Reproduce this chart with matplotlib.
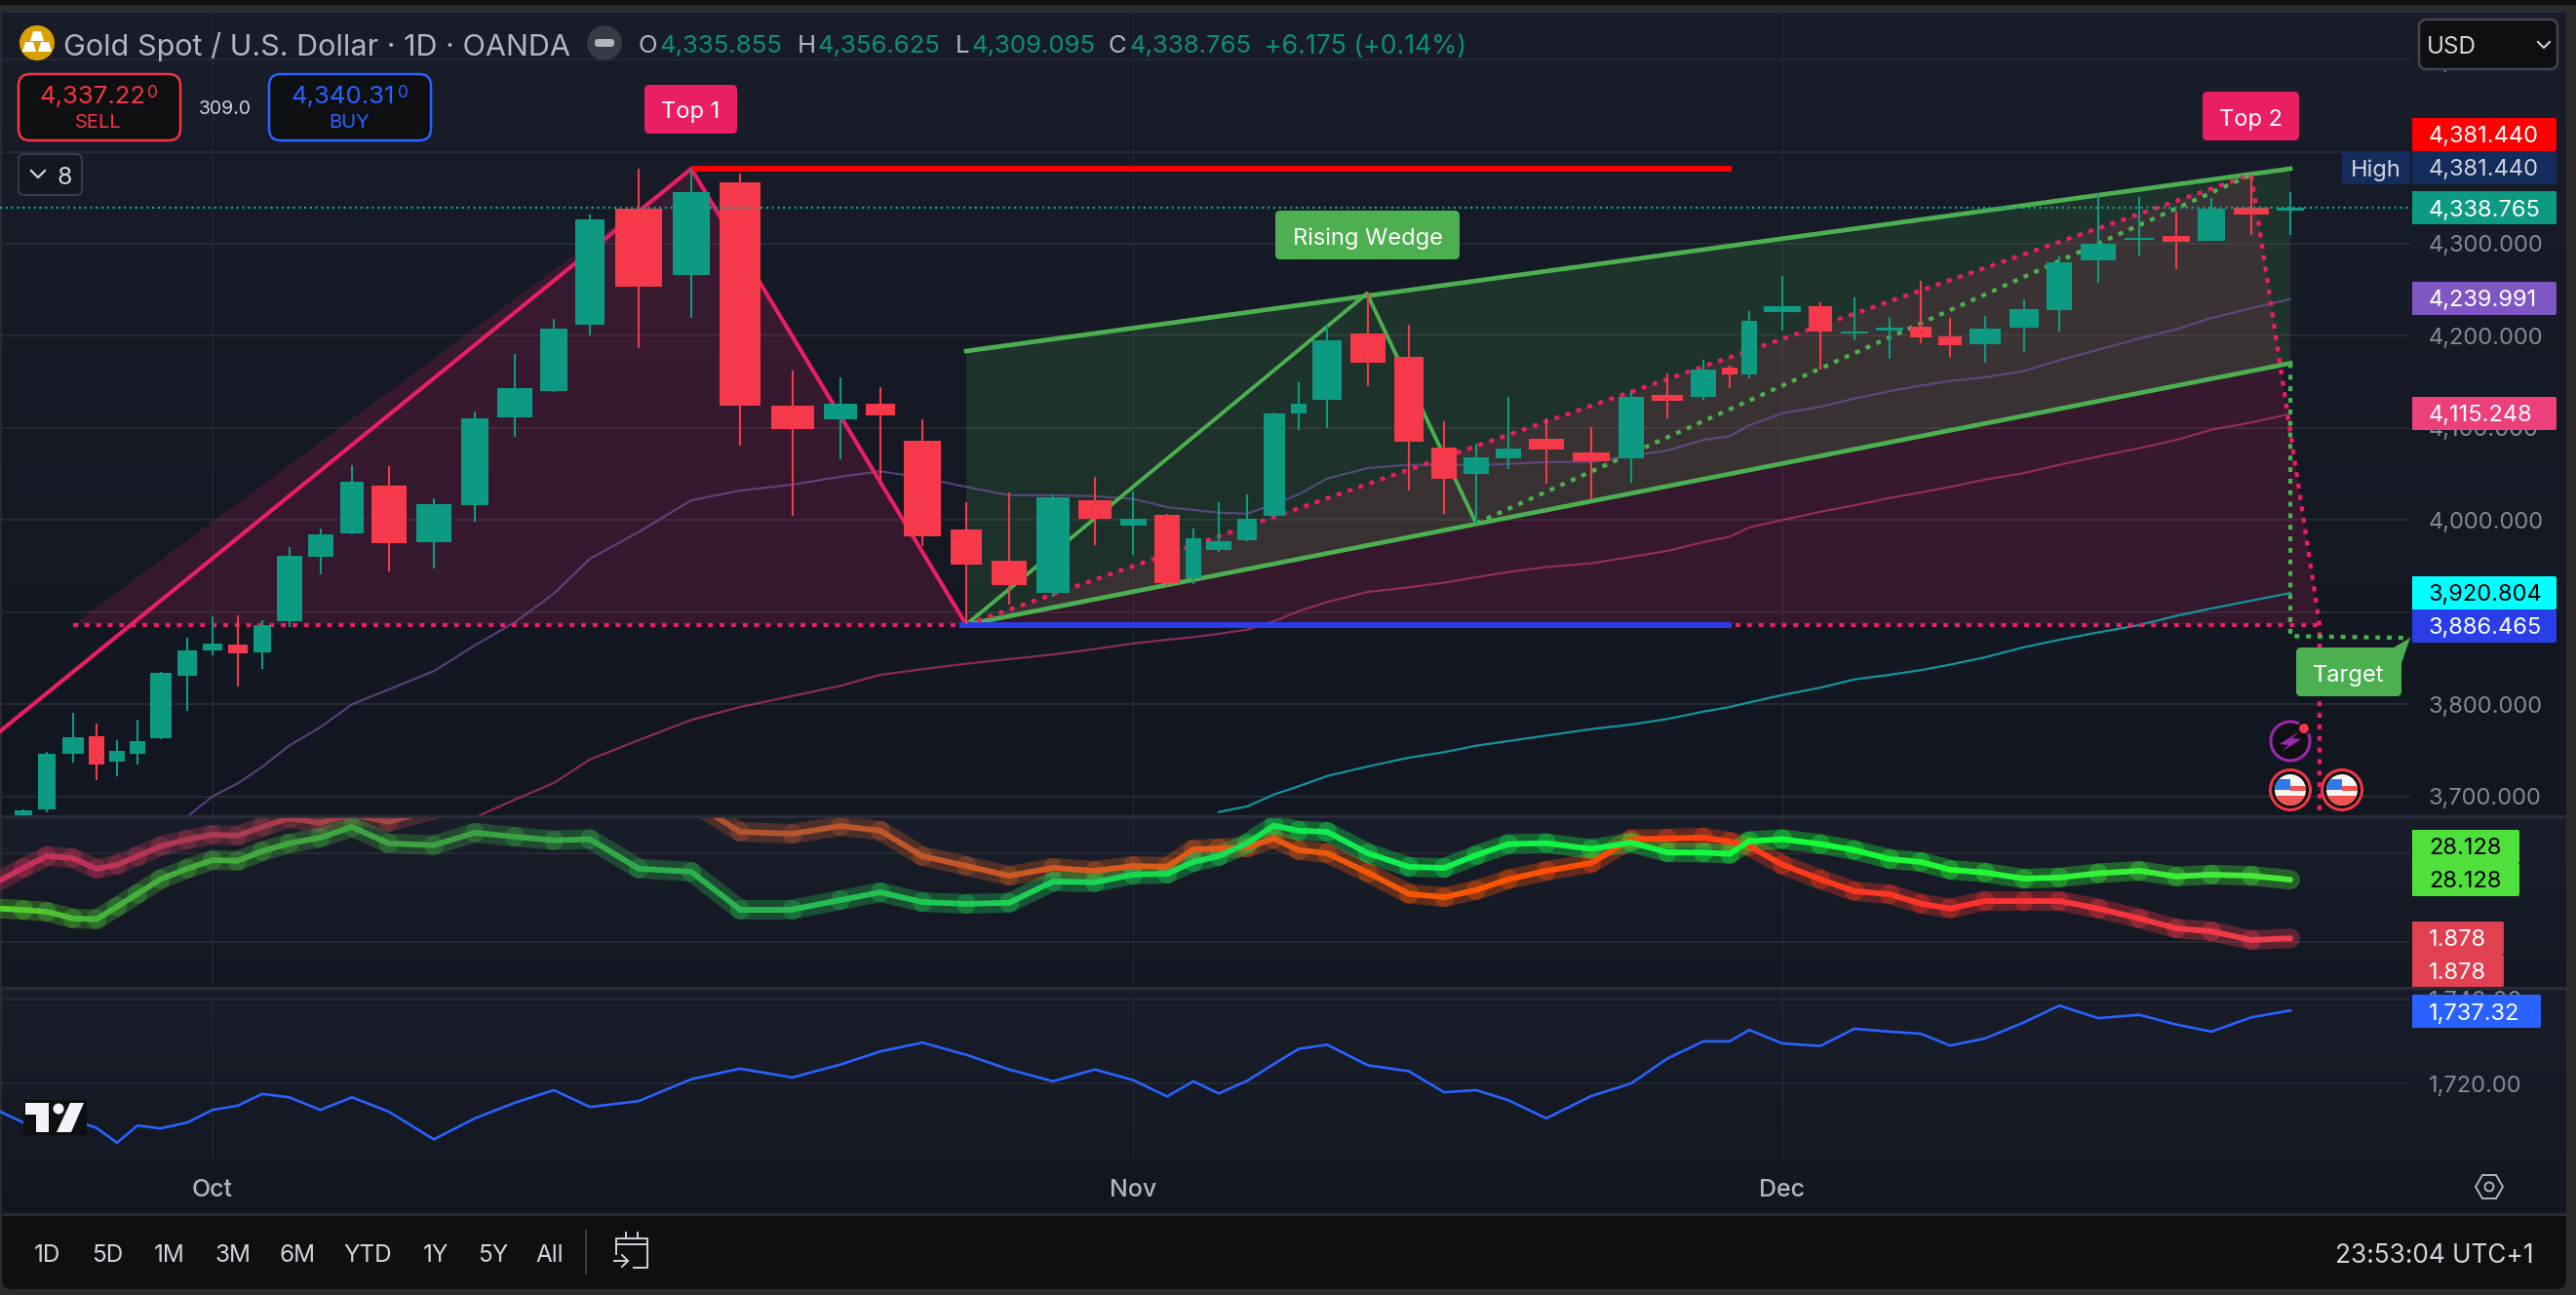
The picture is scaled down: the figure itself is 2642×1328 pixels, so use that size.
import numpy as np
import matplotlib
matplotlib.use('Agg')
import matplotlib.pyplot as plt
from matplotlib.collections import LineCollection
from matplotlib.colors import LinearSegmentedColormap
from matplotlib.patches import Circle, FancyBboxPatch, Polygon, Rectangle

plt.rcParams['font.family'] = ['Inter', 'DejaVu Sans']

W, H = 2642, 1328

# daily candles, x is where each session sits on the (uneven) time scale
bar_x = [24, 48, 74.6, 99, 120, 141, 164.5, 192, 218, 243.6, 269, 296.5, 328.5, 361, 398.6, 445, 487, 528, 568, 605,
         655, 709, 759, 812.6, 862, 903, 946, 991, 1035, 1080, 1123, 1162, 1197, 1224, 1250, 1279, 1306.5, 1332, 1361, 1403,
         1445, 1481, 1514, 1547, 1586, 1632, 1673, 1710, 1747, 1774, 1794, 1828, 1867, 1902, 1938, 1970, 2000, 2036, 2076, 2112,
         2152, 2194, 2232, 2268, 2309, 2349]
bar_w = [18, 18, 22, 16, 16, 16, 22, 20, 20, 20, 18, 26, 26, 24, 36, 36, 28, 36, 28, 30,
         48, 38, 42, 44, 34, 30, 38, 32, 36, 34, 34, 27, 26, 16, 26, 20, 22, 16, 30, 36,
         30, 26, 26, 26, 36, 38, 26, 32, 26, 16, 16, 38, 24, 28, 28, 22, 24, 32, 30, 26,
         36, 30, 28, 28, 36, 28]
opens = [3670, 3686, 3746, 3765, 3738, 3746, 3763, 3831, 3858.5, 3865, 3856, 3890, 3960, 3985.5, 4037.4, 3976, 4016, 4111.5, 4140, 4212,
         4338, 4266, 4367, 4124, 4109.4, 4126, 4086, 3990, 3956, 3921, 4021.5, 3994, 4006, 3937, 3967.5, 3978, 4005, 4116, 4130.6, 4202.6,
         4177, 4079, 4050, 4067, 4088, 4073, 4067, 4136, 4134, 4165.5, 4158, 4226, 4232, 4203, 4206, 4210, 4199, 4191, 4209, 4228,
         4282, 4304, 4308.5, 4303, 4339, 4335.855]
highs = [3686, 3748, 3791, 3779, 3761, 3783, 3835, 3872, 3896, 3897, 3891, 3971, 3991, 4060, 4058.6, 4024, 4118, 4180, 4218.5, 4332,
         4381.44, 4381, 4376, 4162, 4155, 4144, 4109.4, 4019, 4030, 4028, 4047, 4031, 4007, 3991, 4019, 4028, 4117, 4150, 4212, 4246,
         4212, 4107, 4083, 4134, 4110.5, 4101, 4140, 4159, 4174, 4168, 4227, 4265, 4236.5, 4242, 4219.5, 4260, 4219.5, 4222, 4240, 4286,
         4353.5, 4351, 4335, 4350, 4375, 4356.625]
lows = [3667, 3683, 3737, 3718, 3722, 3735, 3762, 3793, 3853, 3819, 3838, 3884, 3941, 3984.5, 3944, 3947, 3998, 4090, 4139, 4200,
        4187, 4219.5, 4081, 4005, 4066, 4044, 3972, 3887, 3908, 3917, 3973, 3962, 3928, 3930.5, 3965, 3977, 4004, 4098, 4100, 4145,
        4032, 4007, 3996, 4055, 4039, 4023, 4041, 4110.5, 4131, 4143, 4154, 4206, 4163, 4195, 4175, 4192, 4176, 4171, 4182.5, 4205,
        4258, 4286, 4272.5, 4303, 4309.5, 4309.095]
closes = [3685, 3746, 3764, 3735, 3749, 3760, 3834, 3858.5, 3866, 3855, 3886, 3961, 3984.5, 4042, 3975, 4017, 4110.5, 4143, 4208, 4326.5,
          4253, 4356, 4124, 4099, 4126, 4113.6, 3982, 3952, 3929, 4025, 4001, 4001, 3931.5, 3980, 3977, 4001, 4116, 4126, 4195, 4171,
          4085, 4045, 4068, 4078, 4077, 4064, 4134, 4129.5, 4163, 4158, 4216, 4232, 4205, 4205, 4209, 4198, 4190, 4208, 4229, 4280,
          4300, 4306, 4302, 4338, 4332, 4338.765]

# moving averages, aligned to the last sessions
ma_purple = [3678, 3700, 3714, 3732, 3755, 3775, 3800, 3816, 3836, 3864, 3889, 3920, 3958, 3987, 4021.5, 4032, 4038.5, 4047, 4053, 4046,
             4036, 4027, 4027, 4026, 4023, 4014, 4011, 4008, 4007, 4017, 4028, 4045, 4056.5, 4060, 4060, 4060, 4061, 4063, 4063, 4070,
             4075.5, 4087, 4091, 4103, 4116, 4123, 4132, 4140, 4146, 4151, 4155, 4162, 4173.5, 4185, 4197, 4207, 4219.5, 4230, 4239.991]
ma_pink = [3677, 3696.5, 3714.5, 3740, 3761, 3783, 3797, 3809, 3820, 3832, 3838, 3844, 3849, 3854, 3860, 3866, 3870, 3873, 3876.5, 3881,
           3890, 3901, 3911, 3922, 3927, 3932, 3938, 3943.5, 3949, 3953, 3960, 3966.5, 3976, 3982, 3992, 4000, 4009, 4016, 4024, 4030,
           4036, 4044, 4051, 4060, 4069, 4078, 4087, 4098, 4106, 4115.248]
ma_cyan = [3683, 3689, 3702, 3711, 3722, 3732.5, 3742, 3748, 3755, 3760, 3766, 3773, 3778, 3784, 3792, 3797, 3802, 3810, 3818, 3827,
           3832, 3837, 3843, 3851, 3862, 3870, 3878, 3886, 3896, 3904, 3912.5, 3920.804]

# indicator panes, first value is at the left edge of the chart
di_plus = [15.2, 14.6, 13.8, 10.8, 10.4, 16.0, 21.8, 28.3, 33.1, 36.9, 36.6, 40.9, 44.4, 47.0, 51.8, 44.4, 43.6, 49.2, 47.4, 45.8, 46.3,
           33.1, 31.7, 14.8, 14.8, 19.0, 22.5, 18.1, 17.3, 17.8, 27.3, 27.0, 30.4, 30.8, 36.1, 38.7, 44.4, 52.4, 50.1, 49.6, 40.0,
           33.9, 33.4, 39.1, 44.1, 44.5, 41.9, 44.8, 40.4, 40.3, 39.7, 45.4, 46.3, 44.1, 41.4, 37.4, 36.1, 32.6, 31.3, 28.6, 29.1,
           31.0, 32.1, 29.6, 30.4, 29.9, 28.128]
di_minus = [27.8, 33.4, 38.7, 37.8, 33.0, 34.8, 38.7, 43.1, 46.1, 48.3, 47.9, 51.8, 55.7, 53.6, 57.5, 54.0, 59.7, 63.2, 64.9, 65.8, 66.2,
            66.2, 63.2, 49.6, 48.7, 52.2, 50.1, 38.7, 34.3, 29.9, 33.4, 32.1, 34.3, 33.9, 41.7, 42.2, 42.6, 46.6, 41.4, 40.0, 31.3,
            21.8, 20.3, 23.5, 28.3, 32.1, 35.6, 46.3, 46.6, 47.0, 45.2, 43.2, 34.9, 28.3, 23.0, 21.6, 17.4, 15.2, 18.6, 18.6, 18.6,
            15.2, 10.8, 6.3, 5.0, 1.1, 1.878]
blue_line = [1713.3, 1710.7, 1711.4, 1711.4, 1709.4, 1705.9, 1710, 1709.3, 1710.7, 1713.7, 1714.7, 1717.5, 1716.7, 1713.7, 1716.7, 1713.3, 1706.7, 1711.7, 1715.4, 1718.4, 1714.4,
             1715.8, 1721, 1723.5, 1721.4, 1724.5, 1727.6, 1729.7, 1726.8, 1723.3, 1720.5, 1723.3, 1720.8, 1716.9, 1720.5, 1717.6, 1720.6, 1724.6, 1728.2, 1729.2, 1724.3,
             1722.9, 1717.9, 1718.4, 1716, 1711.7, 1717, 1720, 1725.9, 1730, 1730, 1732.7, 1729.5, 1728.9, 1733, 1732.3, 1731.8, 1729, 1730.7, 1734.5, 1738.5,
             1735.5, 1736.3, 1734, 1732.3, 1735.7, 1737.32]

# drawn pattern anchors
top_1 = 4381.44
top_2 = 4375
neckline = 3886.465
pink_x = [0, 709, 991]
pink_p = [3770.6, top_1, neckline]
wedge_up_x = [991, 2349]
wedge_up_p = [4183.5, 4381.5]
wedge_lo_x = [991, 2349]
wedge_lo_p = [neckline, 4170.3]
zig_x = [991, 1402, 1514]
zig_p = [neckline, 4246, 3996.5]

price_ticks = [3700, 3800, 3900, 4000, 4100, 4200, 4300, 4400, 4500]
blue_ticks = [1720, 1740]
month_labels = ['Oct', 'Nov', 'Dec']
month_bars = [8, 31, 51]
range_buttons = ['1D', '5D', '1M', '3M', '6M', 'YTD', '1Y', '5Y', 'All']

GRID = '#252933'
SEP = '#2a2e39'
UP = '#0c9b82'
DOWN = '#f5384a'
PINK = '#e91e63'
GREEN = '#4caf50'
TXT = '#b2b5be'
TICK = '#868993'

fig = plt.figure(figsize=(W / 100, H / 100), dpi=100, facecolor='#2b2b2b')


def px_axes(left, top, right, bottom, z):
    ax = fig.add_axes([left / W, 1 - bottom / H, (right - left) / W, (bottom - top) / H], zorder=z)
    ax.patch.set_visible(False)
    for s in ax.spines.values():
        s.set_visible(False)
    return ax


# background with the pane gradients
bg = px_axes(0, 0, W, H, 0)
bg.set_xlim(0, W)
bg.set_ylim(H, 0)
bg.axis('off')
bg.add_patch(Rectangle((0, 0), W, 4, color='#0d0d0d'))


def gradient(top, bottom, c1, c2):
    c1 = np.array(matplotlib.colors.to_rgb(c1))
    c2 = np.array(matplotlib.colors.to_rgb(c2))
    t = np.linspace(0, 1, 128)[:, None, None]
    bg.imshow(c1 + (c2 - c1) * t, extent=(2, 2632, bottom, top), aspect='auto')


gradient(12, 836, '#191d2a', '#121620')
gradient(836, 1013, '#191e2a', '#131722')
gradient(1013, 1245, '#191e2a', '#121620')
bg.set_xlim(0, W)
bg.set_ylim(H, 0)
bg.add_patch(FancyBboxPatch((2, 1245), 2630, 77, boxstyle='round,pad=0,rounding_size=10', fc='#0e0f11', ec='none'))
bg.add_patch(Rectangle((2, 1245), 2630, 30, fc='#0e0f11', ec='none'))

# price pane, x units run along the pixel width of the plot
ax = px_axes(0, 12, 2472, 836, 2)
ax.set_xlim(0, 2472)
ax.set_ylim(3679.5, 4552)
ax.set_xticks([bar_x[i] for i in month_bars])
ax.set_xticklabels([])
ax.set_yticks(price_ticks)
ax.set_yticklabels([f'{v:,.3f}' for v in price_ticks], fontsize=17, color=TICK, va='center_baseline')
ax.yaxis.tick_right()
ax.tick_params(length=0, pad=13.5)
ax.grid(axis='y', color=GRID, lw=1.5)
ax.grid(axis='x', color=GRID, lw=0.8)
ax.set_axisbelow(True)

# pattern fills
ax.add_patch(Polygon([(75, neckline), (709, top_1), (991, neckline)], fc=PINK, alpha=0.155, ec='none', zorder=1))
ax.add_patch(Polygon([(991, neckline), (2309, top_2), (2379, neckline)], fc=PINK, alpha=0.155, ec='none', zorder=1))
ax.add_patch(Polygon([(991, wedge_up_p[0]), (2349, wedge_up_p[1]), (2349, wedge_lo_p[1]), (991, wedge_lo_p[0])],
                     fc=GREEN, alpha=0.17, ec='none', zorder=1.1))

# moving averages
ax.plot(bar_x[-len(ma_purple):], ma_purple, color='#6a4f96', lw=1.6, alpha=0.75, zorder=2)
ax.plot(bar_x[-len(ma_pink):], ma_pink, color='#b2326a', lw=1.6, alpha=0.75, zorder=2)
ax.plot(bar_x[-len(ma_cyan):], ma_cyan, color='#12a0ac', lw=1.6, alpha=0.9, zorder=2)

# pattern lines
dots = (0, (1.15, 1.6))
ax.plot(pink_x, pink_p, color=PINK, lw=3, solid_joinstyle='miter', zorder=3)
ax.plot(wedge_up_x, wedge_up_p, color=GREEN, lw=3.4, zorder=3)
ax.plot(wedge_lo_x, wedge_lo_p, color=GREEN, lw=3.4, zorder=3)
ax.plot(zig_x, zig_p, color=GREEN, lw=2.8, zorder=3)
ax.plot([75, 2379], [neckline, neckline], color=PINK, lw=3.1, ls=dots, zorder=3)
ax.plot([991, 2309, 2379, 2379], [neckline, top_2, neckline, 3680], color=PINK, lw=3.1, ls=dots, zorder=3)
ax.plot([1514, 2309], [3996.5, top_2], color=GREEN, lw=3.1, ls=dots, zorder=3)
ax.plot([2349, 2349, 2472], [wedge_lo_p[1], 3874, 3872], color=GREEN, lw=3.1, ls=dots, zorder=3)
ax.plot([709, 1776], [top_1, top_1], color='#ff0000', lw=4.2, solid_capstyle='butt', zorder=3)
ax.plot([984, 1776], [neckline, neckline], color='#2a3ee8', lw=4.2, solid_capstyle='butt', zorder=3)

# candles
colors = [UP if c >= o else DOWN for o, c in zip(opens, closes)]
ax.vlines(bar_x, lows, highs, colors=colors, lw=1.5, zorder=4)
body_low = np.minimum(opens, closes)
body_h = np.abs(np.array(closes) - np.array(opens))
ax.bar(bar_x, body_h, bottom=body_low, width=bar_w, color=colors, zorder=5)

# last price line
ax.axhline(closes[-1], color='#12a189', lw=1.6, ls=(0, (1, 1.6)), zorder=5)

# directional pane, glowing lines coloured along x
pane_x = [0] + bar_x
ax2 = px_axes(0, 837, 2472, 1012, 2)
ax2.set_xlim(0, 2472)
ax2.set_ylim(-19.9, 56.6)
ax2.set_xticks([bar_x[i] for i in month_bars])
ax2.set_xticklabels([])
ax2.set_yticks([0, 40])
ax2.set_yticklabels([])
ax2.tick_params(length=0)
ax2.grid(axis='y', color=GRID, lw=1.5)
ax2.grid(axis='x', color=GRID, lw=0.8)
ax2.set_axisbelow(True)

plus_cmap = LinearSegmentedColormap.from_list('plus', [(0, '#57d12a'), (0.04, '#45b338'), (0.2, '#3d9f42'), (0.3, '#2bb04e'),
                                                       (0.45, '#1bd055'), (0.6, '#10ee50'), (0.8, '#14ff36'), (1, '#48ea38')])
minus_cmap = LinearSegmentedColormap.from_list('minus', [(0, '#cc2f5c'), (0.1, '#a83a50'), (0.2, '#a04a3c'), (0.35, '#b5552f'),
                                                         (0.5, '#d85c1c'), (0.65, '#ff5500'), (0.75, '#ff4010'), (0.87, '#ff3030'), (1, '#ee3c50')])


def glow_line(pane, xs, ys, cmap):
    pts = np.column_stack([xs, ys])
    segs = np.stack([pts[:-1], pts[1:]], axis=1)
    cols = cmap((np.array(xs[:-1]) + np.array(xs[1:])) / 2 / xs[-1])
    halo = cols.copy()
    halo[:, 3] = 0.33
    pane.add_collection(LineCollection(segs, colors=halo, linewidths=14.5, capstyle='round', zorder=3))
    pane.add_collection(LineCollection(segs, colors=cols, linewidths=4.2, capstyle='round', zorder=4))


glow_line(ax2, pane_x, di_minus, minus_cmap)
glow_line(ax2, pane_x, di_plus, plus_cmap)

# third pane carries the time axis
ax3 = px_axes(0, 1013, 2472, 1188, 2)
ax3.set_xlim(0, 2472)
ax3.set_ylim(1702.16, 1742.71)
ax3.set_xticks([bar_x[i] for i in month_bars])
ax3.set_xticklabels(month_labels, fontsize=18, color=TXT, fontweight='medium')
ax3.set_yticks(blue_ticks)
ax3.set_yticklabels([f'{v:,.2f}' for v in blue_ticks], fontsize=17, color=TICK, va='center_baseline')
ax3.yaxis.tick_right()
ax3.tick_params(length=0)
ax3.tick_params(axis='y', pad=13.5)
ax3.tick_params(axis='x', pad=15)
ax3.grid(axis='y', color=GRID, lw=1.5)
ax3.grid(axis='x', color=GRID, lw=0.8)
ax3.set_axisbelow(True)
ax3.plot(pane_x, blue_line, color='#2962ff', lw=1.9, zorder=3)

# everything laid over the chart, in figure pixels
top = px_axes(0, 0, W, H, 10)
top.set_xlim(0, W)
top.set_ylim(H, 0)
top.axis('off')


def box(x0, y0, x1, y1, fc, ec='none', lw=0, r=5, z=3):
    top.add_patch(FancyBboxPatch((x0, y0), x1 - x0, y1 - y0, boxstyle=f'round,pad=0,rounding_size={r}', fc=fc, ec=ec, lw=lw, zorder=z))


def label(x, y, s, size=17, color='white', ha='center', **kw):
    top.text(x, y, s, fontsize=size, color=color, ha=ha, va='center_baseline', zorder=6, **kw)


for y in (11, 836.5, 1012.5, 1245):
    top.plot([2, 2632], [y, y], color=SEP, lw=2, solid_capstyle='butt', zorder=1)

# header
top.add_patch(Circle((38, 44), 18, fc='#d9a000', ec='none', zorder=3))
for tx, ty in ((38, 37), (30, 48), (46, 48)):
    top.add_patch(Polygon([(tx - 7, ty + 5), (tx - 4, ty - 5), (tx + 4, ty - 5), (tx + 7, ty + 5)], fc='white', ec='none', zorder=4))
label(65, 45, 'Gold Spot / U.S. Dollar · 1D · OANDA', size=22, color=TXT, ha='left')
top.add_patch(Circle((620, 44), 18, fc='#363a45', ec='none', zorder=3))
box(610, 40, 630, 48, TXT, r=3, z=4)
for tx, key in ((655, 'O'), (818, 'H'), (980, 'L'), (1137, 'C')):
    label(tx, 45, key, size=18.5, color=TXT, ha='left')
for tx, s in ((676, '4,335.855'), (839, '4,356.625'), (996, '4,309.095'), (1158, '4,338.765')):
    label(tx, 45, s, size=18.5, color='#0c8f78', ha='left')
label(1297, 45, '+6.175 (+0.14%)', size=19.2, color='#0c8f78', ha='left')

# sell / buy buttons
box(19, 76, 185, 144, '#0e0f11', ec='#f23645', lw=1.8, r=12)
box(276, 76, 442, 144, '#0e0f11', ec='#2962ff', lw=1.8, r=12)
label(40, 97, '4,337.22', size=18.5, color='#f23645', ha='left')
label(151, 93, '0', size=12.5, color='#f23645', ha='left')
label(101, 124, 'SELL', size=14.5, color='#f23645')
label(298, 97, '4,340.31', size=18.5, color='#2962ff', ha='left')
label(408, 93, '0', size=12.5, color='#2962ff', ha='left')
label(358, 124, 'BUY', size=14.5, color='#2962ff')
label(231, 110, '309.0', size=14, color='#d1d4dc')

box(19, 158, 84, 200, '#131722', ec='#363a45', lw=1.5, r=6)
top.plot([32, 39, 46], [175, 182, 175], color='#d1d4dc', lw=1.6, zorder=4)
label(66, 180, '8', size=18, color='#d1d4dc')

# USD selector
box(2481, 20, 2623, 71, '#0e0f11', ec='#40444e', lw=1.8, r=8)
label(2489, 46, 'USD', size=17.5, color='#d1d4dc', ha='left')
top.plot([2603, 2609, 2615], [43, 49, 43], color='#d1d4dc', lw=1.5, zorder=4)

# chart notes
box(661, 87, 756, 137, PINK)
label(708.5, 113, 'Top 1', size=17)
box(2259, 94, 2358, 144, PINK)
label(2308.5, 120, 'Top 2', size=17)
box(1308, 216, 1497, 266, GREEN)
label(1402.5, 242, 'Rising Wedge', size=17)
box(2355, 664, 2463, 714, GREEN)
top.add_patch(Polygon([(2455, 664), (2472, 654), (2463, 680)], fc=GREEN, ec='none', zorder=3))
label(2409, 690, 'Target', size=17)

# price tags on the right scale
tags = [(121, 155, 2622, '#ff0000', 'white', '4,381.440'),
        (155, 189, 2622, '#142c5c', '#d1d4dc', '4,381.440'),
        (196, 230, 2622, '#0c9b82', 'white', '4,338.765'),
        (289, 323, 2622, '#7e57c2', 'white', '4,239.991'),
        (407, 441, 2622, '#ec407a', 'white', '4,115.248'),
        (591, 625, 2622, '#00ffff', 'black', '3,920.804'),
        (625, 659, 2622, '#2a3ee8', 'white', '3,886.465'),
        (851, 885, 2584, '#50e03c', 'black', '28.128'),
        (885, 919, 2584, '#50e03c', 'black', '28.128'),
        (945, 979, 2568, '#e04050', 'white', '1.878'),
        (979, 1012, 2568, '#e04050', 'white', '1.878'),
        (1020, 1054, 2606, '#2962ff', 'white', '1,737.32')]
for y0, y1, x1, fc, tc, s in tags:
    box(2474, y0, x1, y1, fc, r=2)
    top.add_patch(Rectangle((2474, y0), 8, y1 - y0, fc=fc, ec='none', zorder=3))
    label(2491, (y0 + y1) / 2, s, size=17, color=tc, ha='left')
box(2402, 155, 2472, 189, '#142c5c', r=3)
label(2437, 172, 'High', size=17, color='#d1d4dc')

# event markers
top.add_patch(Circle((2349, 760), 20, fc='#0e0f11', ec='#9c27b0', lw=2.2, zorder=3))
top.add_patch(Polygon([(2358, 750), (2338, 763), (2347, 764), (2340, 771), (2360, 758), (2351, 757)], fc='#9c27b0', ec='none', zorder=4))
top.add_patch(Circle((2363, 747), 7, fc='#0e0f11', ec='none', zorder=4))
top.add_patch(Circle((2363, 747), 5, fc='#f23645', ec='none', zorder=5))
for fx in (2349, 2402):
    top.add_patch(Circle((fx, 810), 20.5, fc='#0e0f11', ec='#f23645', lw=2.2, zorder=3))
    disc = Circle((fx, 810), 16, fc='#f5f5f5', ec='none', zorder=4)
    top.add_patch(disc)
    for sy, sh, sx, sw, c in ((806, 5, fx, 17, '#f0524f'), (816, 11, fx - 17, 34, '#f0524f'), (799, 11, fx - 17, 17, '#2f7ae5')):
        r = Rectangle((sx, sy), sw, sh, fc=c, ec='none', zorder=5)
        top.add_patch(r)
        r.set_clip_path(disc)

# TradingView mark
top.add_patch(Rectangle((24, 1128), 65, 36, fc='#0e0f11', ec='none', zorder=3))
top.add_patch(Polygon([(26, 1131), (50, 1131), (50, 1161), (37, 1161), (37, 1143), (26, 1143)], fc='#f0f3fa', ec='none', zorder=4))
top.add_patch(Circle((60, 1137), 5.5, fc='#f0f3fa', ec='none', zorder=4))
top.add_patch(Polygon([(72, 1131), (86, 1131), (73, 1161), (58, 1161)], fc='#f0f3fa', ec='none', zorder=4))

# bottom toolbar
for bx, s in zip((49, 110, 174, 239, 305, 377, 447, 506, 564), range_buttons):
    label(bx, 1285, s, size=17.5, color='#d1d4dc')
top.plot([601, 601], [1262, 1306], color='#363a45', lw=1.4, zorder=3)
top.plot([632, 632, 664, 664, 650], [1286, 1270, 1270, 1300, 1300], color='#d1d4dc', lw=1.4, zorder=3)
top.plot([632, 664], [1276, 1276], color='#d1d4dc', lw=1.4, zorder=3)
top.plot([642, 642], [1264, 1270], color='#d1d4dc', lw=1.4, zorder=3)
top.plot([654, 654], [1264, 1270], color='#d1d4dc', lw=1.4, zorder=3)
top.plot([630, 644], [1293, 1293], color='#d1d4dc', lw=1.4, zorder=3)
top.plot([638, 644, 638], [1287, 1293, 1299], color='#d1d4dc', lw=1.4, zorder=3)
label(2395, 1285, '23:53:04 UTC+1', size=18.9, color='#d1d4dc', ha='left')

# scale settings icon
top.add_patch(Polygon([(2539, 1217), (2546, 1205), (2560, 1205), (2567, 1217), (2560, 1229), (2546, 1229)], fc='none', ec='#b2b5be', lw=1.4, zorder=3))
top.add_patch(Circle((2553, 1217), 4.5, fc='none', ec='#b2b5be', lw=1.4, zorder=3))

fig.savefig('out.png', dpi=100, facecolor=fig.get_facecolor())
